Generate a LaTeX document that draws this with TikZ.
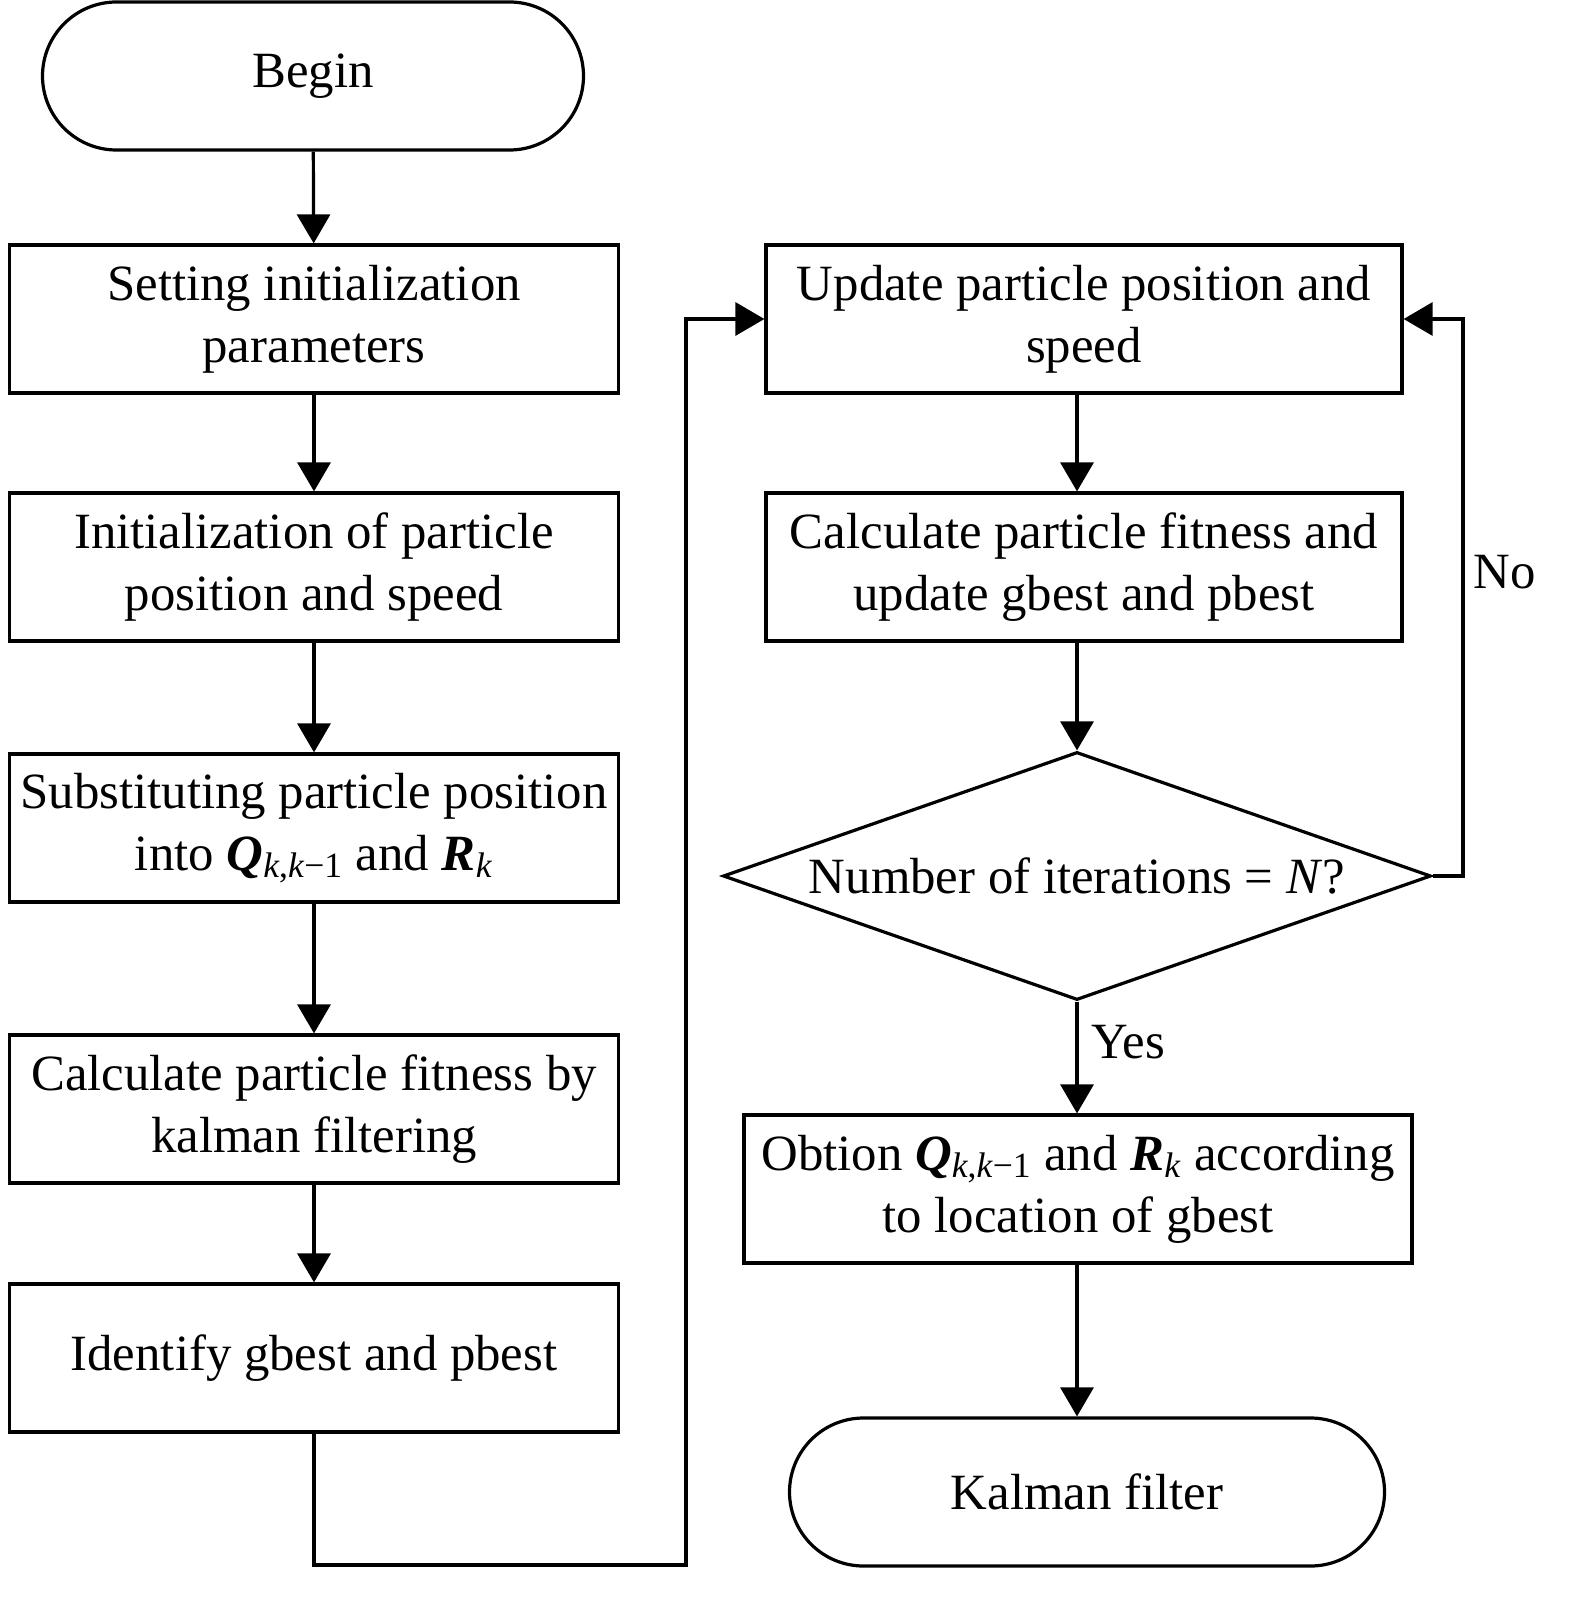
\documentclass[tikz,border=0pt]{standalone}
\usepackage{fontspec}
\setmainfont{Liberation Serif}
\usetikzlibrary{shapes.geometric}
\usetikzlibrary{shapes.misc}
\usetikzlibrary{arrows.meta}

\newcommand{\Qkk}{\textbf{\textit{Q}}\textsubscript{\textit{k},\textit{k}−1}}
\newcommand{\Rk}{\textbf{\textit{R}}\textsubscript{\textit{k}}}

\begin{document}
\begin{tikzpicture}[x=0.5pt,y=-0.5pt,>={Triangle[length=14.5pt,width=16.5pt]},
	line width=1.6pt,font=\fontsize{25.4}{31}\selectfont,
	proc node/.style={rectangle,draw,minimum height=74pt,align=center,inner sep=0pt},
	term node/.style={rounded rectangle,draw,minimum height=74pt,inner sep=0pt},
	dec node/.style={diamond,draw,aspect=2.855,minimum width=354pt,minimum height=124pt,inner sep=0pt}]
	\useasboundingbox (0,0) rectangle (1575,1598);
	
	\node[term node,minimum width=270.5pt] (begin) at (313,76) {Begin};
	\node[proc node,minimum width=304.5pt] (b1) at (314,319) {Setting initialization\\parameters};
	\node[proc node,minimum width=304.5pt] (b2) at (314,567) {Initialization of particle\\position and speed};
	\node[proc node,minimum width=304.5pt] (b3) at (314,828) {Substituting particle position\\into \Qkk{} and \Rk};
	\node[proc node,minimum width=304.5pt] (b4) at (314,1109) {Calculate particle fitness by\\kalman filtering};
	\node[proc node,minimum width=304.5pt] (b5) at (314,1358) {Identify gbest and pbest};
	
	\node[proc node,minimum width=318pt] (r1) at (1084,319) {Update particle position and\\speed};
	\node[proc node,minimum width=318pt] (r2) at (1084,567) {Calculate particle fitness and\\update gbest and pbest};
	\node[dec node] (dia) at (1077,876) {Number of iterations = \textit{N}?};
	\node[proc node,minimum width=334pt] (r3) at (1078,1189) {Obtion \Qkk{} and \Rk{} according\\to location of gbest};
	\node[term node,minimum width=297.5pt] (end) at (1087,1492) {Kalman filter};
	
	\node (no) at (1505,572) {No};
	\node (yes) at (1128,1042) {Yes};
	
	\coordinate (c1) at (686,1565);
	\coordinate (c2) at (1463,876);
	
	\draw[->] (begin) -- (b1);
	\draw[->] (b1) -- (b2);
	\draw[->] (b2) -- (b3);
	\draw[->] (b3) -- (b4);
	\draw[->] (b4) -- (b5);
	\draw[->] (b5.south) |- (c1) |- (r1.west);
	\draw[->] (r1.south -| dia.north) -- (r2.north -| dia.north);
	\draw[->] (r2.south -| dia.north) -- (dia.north);
	\draw[->] (dia.east) -- (c2) |- (r1.east);
	\draw[->] (dia.south) -- (r3.north -| dia.south);
	\draw[->] (r3.south -| dia.south) -- (end.north -| dia.south);
\end{tikzpicture}
\end{document}
